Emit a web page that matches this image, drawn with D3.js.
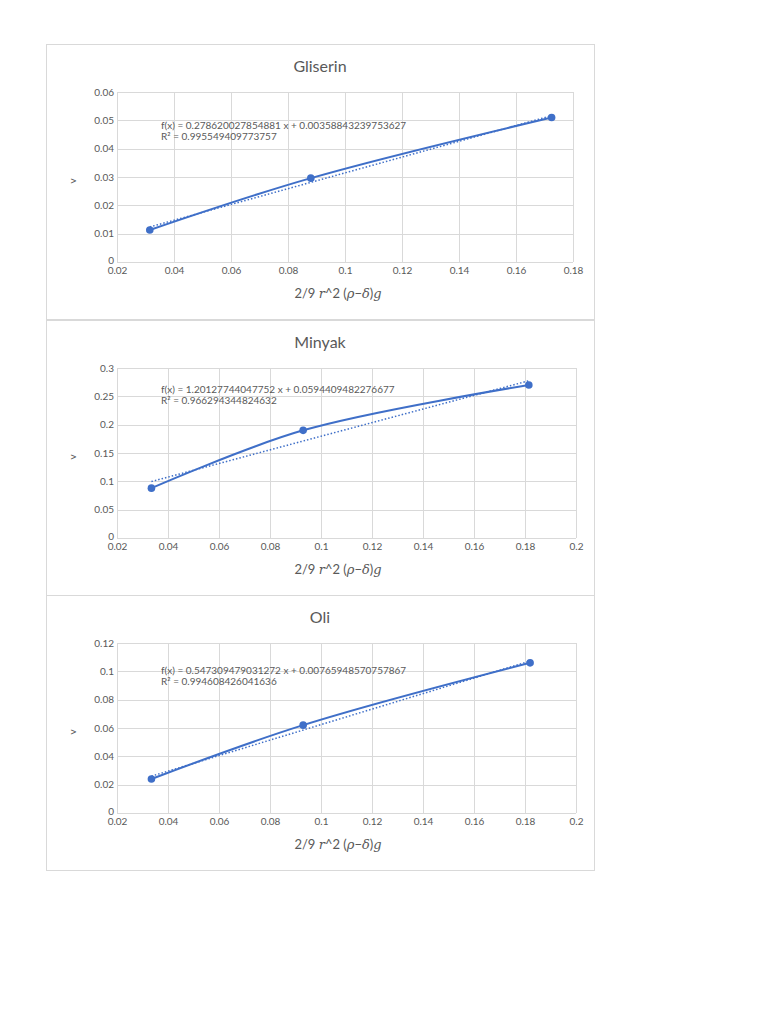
<!DOCTYPE html>
<html>
<head>
<meta charset="utf-8">
<script src="https://cdn.jsdelivr.net/npm/d3@7"></script>
<style>
  body { margin: 0; background: #fff; }
  text { font-family: Lato, "Open Sans", sans-serif; fill: #595959; }
</style>
</head>
<body>
<svg id="chart" width="768" height="1024"></svg>
<script>
// Chart titles
const titles = ["Gliserin", "Minyak", "Oli"];

// Measured points (x = 2/9 r^2 (rho-delta) g, y = v)
const gliserinX = [0.0315, 0.088, 0.1725];
const gliserinY = [0.0113, 0.0296, 0.051];
const minyakX = [0.0335, 0.093, 0.1815];
const minyakY = [0.088, 0.19, 0.27];
const oliX = [0.0335, 0.093, 0.182];
const oliY = [0.024, 0.062, 0.106];

// Linear trendline coefficients shown on each chart
const slopes = [0.278620027854881, 1.20127744047752, 0.547309479031272];
const intercepts = [0.00358843239753627, 0.0594409482276677, 0.00765948570757867];
const rSquared = ["0.995549409773757", "0.966294344824632", "0.994608426041636"];
const equations = [
    "f(x) = 0.278620027854881 x + 0.00358843239753627",
    "f(x) = 1.20127744047752 x + 0.0594409482276677",
    "f(x) = 0.547309479031272 x + 0.00765948570757867"
];

// Axis ranges and tick values
const xDomains = [[0.02, 0.18], [0.02, 0.2], [0.02, 0.2]];
const yDomains = [[0, 0.06], [0, 0.3], [0, 0.12]];
const xTicks = [
    [0.02, 0.04, 0.06, 0.08, 0.1, 0.12, 0.14, 0.16, 0.18],
    [0.02, 0.04, 0.06, 0.08, 0.1, 0.12, 0.14, 0.16, 0.18, 0.2],
    [0.02, 0.04, 0.06, 0.08, 0.1, 0.12, 0.14, 0.16, 0.18, 0.2]
];
const yTicks = [
    [0, 0.01, 0.02, 0.03, 0.04, 0.05, 0.06],
    [0, 0.05, 0.1, 0.15, 0.2, 0.25, 0.3],
    [0, 0.02, 0.04, 0.06, 0.08, 0.1, 0.12]
];

const seriesX = [gliserinX, minyakX, oliX];
const seriesY = [gliserinY, minyakY, oliY];

const svg = d3.select("#chart");
const blue = "#3f6fc8";
const grid = "#d9d9d9";

// panel layout
const panelLeft = 46, panelWidth = 548;
const panelTops = [44, 320, 595];
const panelHeight = 275;
const plotRights = [573, 576, 576];
const eqOffsets = [37, 25, 31];

function drawChart(i) {
    const top = panelTops[i];
    const g = svg.append("g").attr("transform", `translate(0, ${top})`);

    // panel border
    g.append("rect")
        .attr("x", panelLeft + 0.5)
        .attr("y", 0.5)
        .attr("width", panelWidth)
        .attr("height", panelHeight)
        .attr("fill", "#fff")
        .attr("stroke", grid);

    const plotTop = 48, plotBottom = 218;
    const x = d3.scaleLinear().domain(xDomains[i]).range([117, plotRights[i]]);
    const y = d3.scaleLinear().domain(yDomains[i]).range([plotBottom, plotTop]);

    // gridlines
    g.append("g")
        .selectAll("line")
        .data(xTicks[i])
        .enter()
        .append("line")
        .attr("x1", d => Math.round(x(d)) + 0.5)
        .attr("x2", d => Math.round(x(d)) + 0.5)
        .attr("y1", plotTop)
        .attr("y2", plotBottom)
        .attr("stroke", grid);

    g.append("g")
        .selectAll("line")
        .data(yTicks[i])
        .enter()
        .append("line")
        .attr("x1", x.range()[0])
        .attr("x2", x.range()[1])
        .attr("y1", d => Math.round(y(d)) + 0.5)
        .attr("y2", d => Math.round(y(d)) + 0.5)
        .attr("stroke", grid);

    // X axis
    const xAxis = g.append("g")
        .attr("transform", `translate(0, ${plotBottom})`)
        .call(d3.axisBottom(x).tickValues(xTicks[i]).tickSize(0).tickPadding(5).tickFormat(d3.format("")));
    xAxis.select(".domain").remove();
    xAxis.selectAll("text").style("font-size", "10px").style("font-family", "Lato").attr("fill", "#595959");

    // Y axis
    const yAxis = g.append("g")
        .attr("transform", `translate(117, 0)`)
        .call(d3.axisLeft(y).tickValues(yTicks[i]).tickSize(0).tickPadding(3).tickFormat(d3.format("")));
    yAxis.select(".domain").remove();
    yAxis.selectAll("text").style("font-size", "10px").style("font-family", "Lato").attr("fill", "#595959");
    // zero label sits just above the x tick labels
    yAxis.selectAll("text").filter(d => d === 0).attr("dy", "0.1em");

    // title
    g.append("text")
        .attr("x", 320)
        .attr("y", 28)
        .attr("text-anchor", "middle")
        .style("font-size", "16px")
        .text(titles[i]);

    // y label
    g.append("text")
        .attr("transform", `translate(76, 137) rotate(-90)`)
        .attr("text-anchor", "middle")
        .style("font-size", "10px")
        .text("v");

    // x label with math italics
    const xl = g.append("text")
        .attr("x", 338)
        .attr("y", 254)
        .attr("text-anchor", "middle")
        .style("font-size", "13px");
    xl.append("tspan").text("2/9 ");
    xl.append("tspan").style("font-style", "italic").style("font-family", "DejaVu Serif").text("r");
    xl.append("tspan").text("^2 (");
    xl.append("tspan").style("font-style", "italic").style("font-family", "DejaVu Serif").text("ρ");
    xl.append("tspan").text("−");
    xl.append("tspan").style("font-style", "italic").style("font-family", "DejaVu Serif").text("δ");
    xl.append("tspan").text(")");
    xl.append("tspan").style("font-style", "italic").style("font-family", "DejaVu Serif").text("g");

    // trendline (dotted)
    const xs = seriesX[i], ys = seriesY[i];
    const xMin = d3.min(xs), xMax = d3.max(xs);
    g.append("line")
        .attr("x1", x(xMin))
        .attr("y1", y(slopes[i] * xMin + intercepts[i]))
        .attr("x2", x(xMax))
        .attr("y2", y(slopes[i] * xMax + intercepts[i]))
        .attr("stroke", blue)
        .attr("stroke-width", 1.5)
        .attr("stroke-dasharray", "1.5,2");

    // smoothed data line
    const pts = xs.map((d, k) => [d, ys[k]]);
    const line = d3.line()
        .x(d => x(d[0]))
        .y(d => y(d[1]))
        .curve(d3.curveCatmullRom);
    g.append("path")
        .datum(pts)
        .attr("d", line)
        .attr("fill", "none")
        .attr("stroke", blue)
        .attr("stroke-width", 2);

    // markers
    g.selectAll(".dot")
        .data(pts)
        .enter()
        .append("circle")
        .attr("class", "dot")
        .attr("cx", d => x(d[0]))
        .attr("cy", d => y(d[1]))
        .attr("r", 3.8)
        .attr("fill", blue);

    // trendline equation
    const eq = g.append("text")
        .attr("x", 161)
        .attr("y", plotTop + eqOffsets[i])
        .style("font-size", "10px");
    eq.append("tspan").attr("x", 161).text(equations[i]);
    eq.append("tspan").attr("x", 161).attr("dy", 11).text("R² = " + rSquared[i]);
}

titles.forEach((t, i) => drawChart(i));
</script>
</body>
</html>
